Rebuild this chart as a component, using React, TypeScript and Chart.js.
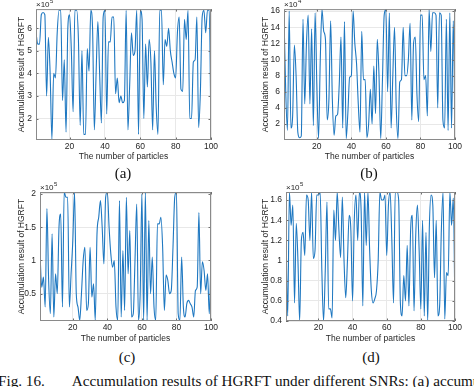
import React, { useEffect, useRef } from "react";
import { Chart, registerables } from "chart.js";

Chart.register(...registerables);

// ---------- data ----------
const particles: number[] = Array.from({ length: 100 }, (_, i) => i + 1);
const xTickValues = [20, 40, 60, 80, 100];

// (a) values in units of 1e5
const seriesA = [
  5.8, 5.3, 5.3, 6.6, 6.7, 6.6, 3.0, 5.6, 4.0, 1.1,
  4.0, 3.8, 5.8, 6.8, 6.8, 2.8, 4.6, 1.4, 6.0, 6.6,
  5.0, 2.3, 6.8, 6.8, 5.5, 1.7, 5.0, 1.3, 1.3, 5.1,
  4.1, 6.8, 6.0, 1.5, 4.0, 6.3, 4.0, 1.8, 6.5, 6.8,
  2.2, 5.4, 5.4, 6.5, 6.5, 3.1, 3.8, 2.7, 3.0, 2.7,
  2.8, 6.8, 1.5, 3.5, 5.8, 4.8, 5.0, 6.8, 1.3, 6.8,
  6.4, 2.0, 5.3, 3.4, 5.5, 4.5, 1.5, 5.0, 2.5, 1.3,
  6.8, 6.8, 3.5, 5.5, 5.2, 6.0, 5.0, 4.5, 4.0, 3.8,
  5.8, 6.5, 3.3, 3.2, 6.4, 5.5, 6.8, 2.0, 2.0, 4.5,
  4.6, 6.5, 1.6, 3.2, 6.5, 6.8, 5.8, 6.8, 6.8, 1.1,
];
const yTicksA = [2, 3, 4, 5, 6];

// (b) values in units of 1e4
const seriesB = [
  15.5, 6.0, 1.2, 16.0, 1.5, 3.0, 11.8, 8.0, 1.0, 0.3,
  0.5, 15.0, 4.5, 12.0, 15.5, 4.5, 13.8, 1.8, 15.8, 7.0,
  0.2, 10.0, 16.2, 13.5, 12.5, 2.5, 5.0, 14.8, 5.0, 0.6,
  3.0, 3.2, 7.0, 12.8, 1.5, 14.7, 0.2, 3.5, 7.8, 8.0,
  16.0, 12.0, 9.5, 4.5, 1.0, 13.5, 7.5, 7.5, 0.3, 2.0,
  6.3, 2.0, 9.2, 3.3, 12.5, 8.0, 0.2, 7.5, 15.5, 16.2,
  6.0, 15.8, 1.5, 8.0, 14.0, 4.0, 0.2, 7.2, 7.5, 14.0,
  8.0, 8.0, 10.0, 14.5, 2.5, 12.0, 12.8, 5.5, 2.3, 15.5,
  15.5, 7.5, 8.0, 3.0, 16.2, 11.0, 15.8, 15.8, 15.5, 4.0,
  15.8, 15.5, 2.5, 1.5, 15.0, 1.2, 15.8, 1.5, 14.8, 0.8,
];
const yTicksB = [2, 4, 6, 8, 10, 12, 14, 16];

// (c) values in units of 1e5
const seriesC = [
  1.1, 0.6, 0.75, 0.3, 1.78, 0.7, 0.2, 1.4, 0.15, 0.8,
  0.5, 1.5, 1.7, 0.3, 2.03, 1.95, 1.95, 0.3, 0.8, 1.3,
  2.03, 0.5, 0.3, 0.1, 0.5, 1.0, 1.2, 0.25, 0.35, 1.2,
  0.45, 0.65, 0.1, 1.4, 1.65, 1.9, 1.5, 0.95, 1.95, 2.03,
  1.5, 1.1, 0.9, 1.0, 0.3, 0.1, 1.9, 0.15, 1.15, 0.25,
  1.95, 0.8, 1.45, 0.15, 0.2, 1.0, 1.85, 0.1, 0.5, 2.0,
  0.1, 2.03, 0.1, 1.6, 0.5, 1.05, 0.3, 0.1, 1.55, 1.55,
  1.65, 1.2, 0.25, 0.78, 0.7, 0.5, 0.55, 1.2, 1.95, 2.03,
  0.2, 0.1, 1.05, 0.3, 0.15, 0.35, 0.4, 0.35, 0.3, 0.15,
  0.55, 0.6, 1.72, 0.5, 0.98, 0.85, 0.55, 0.8, 0.2, 1.05,
];
const yTicksC = [0.5, 1, 1.5, 2];

// (d) values in units of 1e5
const seriesD = [
  1.25, 0.45, 1.68, 1.35, 1.55, 0.58, 1.37, 1.0, 0.4, 1.2,
  1.28, 1.05, 1.65, 1.6, 1.2, 1.68, 1.02, 1.1, 1.65, 1.65,
  1.68, 0.9, 0.4, 0.9, 1.58, 0.52, 0.52, 0.43, 1.5, 1.2,
  1.68, 1.3, 1.03, 1.63, 1.0, 0.63, 1.0, 1.45, 1.3, 0.6,
  1.4, 1.65, 1.2, 1.68, 1.5, 0.55, 1.68, 1.15, 1.68, 1.1,
  0.7, 0.58, 0.62, 0.7, 1.0, 1.68, 1.6, 1.6, 1.65, 1.05,
  1.55, 1.68, 1.2, 0.58, 1.68, 1.68, 1.6, 0.58, 0.45, 0.85,
  0.6, 1.15, 0.55, 1.3, 1.45, 0.5, 1.25, 1.55, 1.1, 0.52,
  1.4, 0.45, 1.28, 0.4, 1.35, 1.65, 1.55, 0.83, 1.4, 0.45,
  0.55, 1.3, 1.68, 0.42, 0.88, 0.85, 1.68, 1.35, 1.62, 0.45,
];
const yTicksD = [0.4, 0.6, 0.8, 1, 1.2, 1.4, 1.6];

const xTitle = "The number of particles";
const yTitle = "Accumulation result of HGRFT";
const captionText = "Accumulation results of HGRFT under different SNRs: (a) accumulation results";

// ---------- layout ----------
type Panel = {
  series: number[];
  yMin: number;
  yMax: number;
  yTicks: number[];
  exp: string;
  left: number;
  top: number;
  w: number;
  h: number;
  area: { l: number; t: number; r: number; b: number };
  yTitlePad: number;
  xTitlePad: number;
  label: string;
  labelX: number;
  labelY: number;
};

const panels: Panel[] = [
  { series: seriesA, yMin: 1.05, yMax: 6.85, yTicks: yTicksA, exp: "5",
    left: 0, top: 0, w: 237, h: 165, area: { l: 36, t: 9, r: 211, b: 140 },
    yTitlePad: 17, xTitlePad: 3, label: "(a)", labelX: 123, labelY: 173 },
  { series: seriesB, yMin: 0.02, yMax: 16.25, yTicks: yTicksB, exp: "4",
    left: 237, top: 0, w: 237, h: 165, area: { l: 47, t: 9, r: 218, b: 140 },
    yTitlePad: 24, xTitlePad: 3, label: "(b)", labelX: 369, labelY: 173 },
  { series: seriesC, yMin: 0.09, yMax: 2.03, yTicks: yTicksC, exp: "5",
    left: 0, top: 180, w: 237, h: 165, area: { l: 40, t: 12, r: 211, b: 141 },
    yTitlePad: 17, xTitlePad: 1, label: "(c)", labelX: 127, labelY: 357 },
  { series: seriesD, yMin: 0.4, yMax: 1.68, yTicks: yTicksD, exp: "5",
    left: 237, top: 180, w: 237, h: 165, area: { l: 49, t: 12, r: 218, b: 141 },
    yTitlePad: 24, xTitlePad: 1, label: "(d)", labelX: 371, labelY: 357 },
];

const AXIS_FONT = "'Liberation Sans', Arial, sans-serif";
const SERIF = "'Liberation Serif', 'Times New Roman', serif";
const TEXT = "#262626";

const framePlugin = {
  id: "frame",
  afterDatasetsDraw(chart: any, _args: any, opts: any) {
    const { ctx, chartArea } = chart;
    const { left, top, right, bottom } = chartArea;
    ctx.save();
    // inward tick marks
    ctx.strokeStyle = "#6e6e6e";
    ctx.lineWidth = 1;
    const xs = chart.scales.x;
    const ys = chart.scales.y;
    ctx.beginPath();
    xs.ticks.forEach((t: any) => {
      const px = Math.round(xs.getPixelForValue(t.value)) + 0.5;
      ctx.moveTo(px, bottom);
      ctx.lineTo(px, bottom - 2.5);
      ctx.moveTo(px, top);
      ctx.lineTo(px, top + 2.5);
    });
    ys.ticks.forEach((t: any) => {
      const py = Math.round(ys.getPixelForValue(t.value)) + 0.5;
      ctx.moveTo(left, py);
      ctx.lineTo(left + 2.5, py);
      ctx.moveTo(right, py);
      ctx.lineTo(right - 2.5, py);
    });
    ctx.stroke();
    // box
    ctx.strokeStyle = "#8a8a8a";
    ctx.strokeRect(left + 0.5, top + 0.5, right - left - 1, bottom - top - 1);
    // exponent label
    ctx.fillStyle = TEXT;
    ctx.textBaseline = "alphabetic";
    ctx.textAlign = "left";
    ctx.font = `8px ${AXIS_FONT}`;
    const base = top - 2;
    ctx.fillText("\u00d710", left, base);
    const w = ctx.measureText("\u00d710").width;
    ctx.font = `6px ${AXIS_FONT}`;
    ctx.fillText(opts.exp || "", left + w + 0.5, base - 4);
    ctx.restore();
  },
};

function fmt(v: number) {
  return String(Number(v.toFixed(2)));
}

function PanelChart({ p }: { p: Panel }) {
  const ref = useRef<HTMLCanvasElement | null>(null);
  useEffect(() => {
    if (!ref.current) return;
    const { area } = p;
    const chart = new Chart(ref.current, {
      type: "line",
      data: {
        datasets: [
          {
            data: p.series.map((v, i) => ({ x: particles[i], y: v })),
            borderColor: "#1f78c1",
            borderWidth: 1.1,
            pointRadius: 0,
            fill: false,
            cubicInterpolationMode: "monotone",
          },
        ],
      },
      options: {
        responsive: false,
        animation: false,
        devicePixelRatio: 1,
        layout: { padding: { left: 0, top: area.t, right: p.w - area.r, bottom: 0 } },
        plugins: {
          legend: { display: false },
          tooltip: { enabled: false },
          frame: { exp: p.exp },
        } as any,
        scales: {
          x: {
            type: "linear",
            min: 1,
            max: 100,
            afterBuildTicks: (s: any) => {
              s.ticks = xTickValues.map((v) => ({ value: v }));
            },
            afterFit: (s: any) => {
              s.height = p.h - area.b;
            },
            grid: { color: "#e8e8e8", lineWidth: 1, drawTicks: false },
            border: { display: false },
            ticks: {
              padding: 2,
              color: TEXT,
              font: { family: AXIS_FONT, size: 8.5 },
              maxRotation: 0,
              autoSkip: false,
              callback: (v: any) => fmt(Number(v)),
            },
            title: {
              display: true,
              text: xTitle,
              color: TEXT,
              font: { family: AXIS_FONT, size: 8.5 },
              padding: { top: 0, bottom: p.xTitlePad },
            },
          },
          y: {
            type: "linear",
            min: p.yMin,
            max: p.yMax,
            afterBuildTicks: (s: any) => {
              s.ticks = p.yTicks.map((v) => ({ value: v }));
            },
            afterFit: (s: any) => {
              s.width = area.l;
            },
            grid: { color: "#e8e8e8", lineWidth: 1, drawTicks: false },
            border: { display: false },
            ticks: {
              padding: 4,
              color: TEXT,
              font: { family: AXIS_FONT, size: 8.5 },
              autoSkip: false,
              callback: (v: any) => fmt(Number(v)),
            },
            title: {
              display: true,
              text: yTitle,
              color: TEXT,
              font: { family: AXIS_FONT, size: 8.5 },
              padding: { top: p.yTitlePad, bottom: 0 },
            },
          },
        },
      },
      plugins: [framePlugin as any],
    });
    return () => chart.destroy();
  }, [p]);
  return (
    <div style={{ position: "absolute", left: p.left, top: p.top, width: p.w, height: p.h }}>
      <canvas ref={ref} width={p.w} height={p.h} style={{ display: "block" }} />
    </div>
  );
}

export default function App() {
  return (
    <div
      style={{
        position: "absolute",
        left: 0,
        top: 0,
        width: 474,
        height: 387,
        overflow: "hidden",
        background: "#ffffff",
      }}
    >
      {panels.map((p, i) => (
        <PanelChart key={i} p={p} />
      ))}
      {panels.map((p, i) => (
        <div
          key={"l" + i}
          style={{
            position: "absolute",
            left: p.labelX,
            top: p.labelY,
            transform: "translate(-50%, -50%)",
            fontFamily: SERIF,
            fontSize: 15,
            lineHeight: 1,
            color: "#111",
            whiteSpace: "nowrap",
          }}
        >
          {p.label}
        </div>
      ))}
      <div
        style={{
          position: "absolute",
          left: -2,
          top: 373,
          fontFamily: SERIF,
          fontSize: 15.2,
          lineHeight: 1,
          color: "#111",
          whiteSpace: "nowrap",
        }}
      >
        <span>Fig. 16.</span>
        <span style={{ marginLeft: 27 }}>{captionText}</span>
      </div>
    </div>
  );
}
